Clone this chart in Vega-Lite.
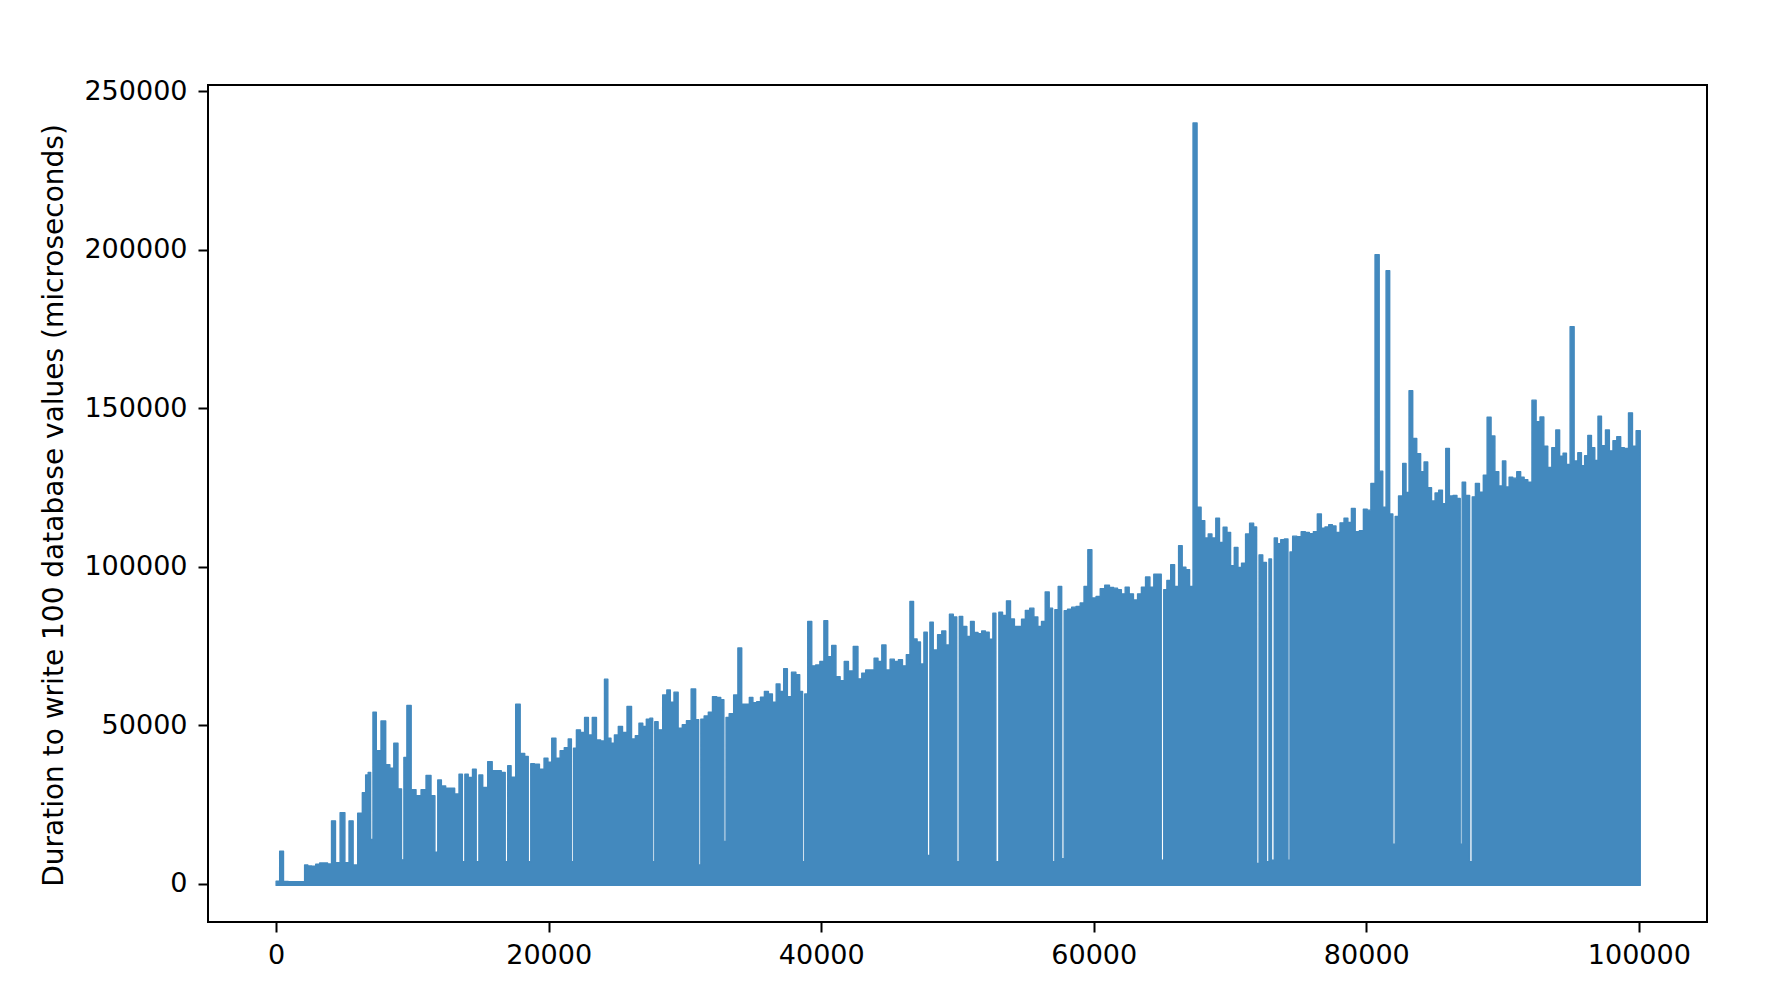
{
  "$schema": "https://vega.github.io/schema/vega-lite/v6.json",
  "width": 1499,
  "height": 837,
  "autosize": {"type": "none"},
  "padding": {"left": 208, "top": 85, "right": 65, "bottom": 84},
  "background": "white",
  "data": {
    "values": [
      {"n": 0, "duration": 900}, {"n": 120, "duration": 900}, {"n": 400, "duration": 10300}, {"n": 680, "duration": 800},
      {"n": 1100, "duration": 700}, {"n": 1600, "duration": 700}, {"n": 2000, "duration": 700}, {"n": 2180, "duration": 6000},
      {"n": 2470, "duration": 5700}, {"n": 2760, "duration": 5600}, {"n": 3050, "duration": 6200}, {"n": 3340, "duration": 6600},
      {"n": 3630, "duration": 6600}, {"n": 3920, "duration": 6300}, {"n": 4210, "duration": 19900}, {"n": 4500, "duration": 6700},
      {"n": 4890, "duration": 22500}, {"n": 5200, "duration": 6700}, {"n": 5500, "duration": 19900}, {"n": 5800, "duration": 6000},
      {"n": 6170, "duration": 22300}, {"n": 6480, "duration": 28800}, {"n": 6660, "duration": 34400}, {"n": 6850, "duration": 35200},
      {"n": 7020, "duration": 14000}, {"n": 7190, "duration": 54200}, {"n": 7510, "duration": 42000}, {"n": 7880, "duration": 51400},
      {"n": 8200, "duration": 37600}, {"n": 8490, "duration": 36500}, {"n": 8780, "duration": 44400}, {"n": 9100, "duration": 30000},
      {"n": 9300, "duration": 7600}, {"n": 9450, "duration": 39900}, {"n": 9740, "duration": 56300}, {"n": 10080, "duration": 29700},
      {"n": 10450, "duration": 27800}, {"n": 10820, "duration": 29700}, {"n": 11180, "duration": 34200}, {"n": 11550, "duration": 27800},
      {"n": 11750, "duration": 10000}, {"n": 11970, "duration": 32800}, {"n": 12280, "duration": 30900}, {"n": 12600, "duration": 30200},
      {"n": 12940, "duration": 30200}, {"n": 13260, "duration": 28400}, {"n": 13580, "duration": 34600}, {"n": 13750, "duration": 7000},
      {"n": 13950, "duration": 34600}, {"n": 14240, "duration": 33600}, {"n": 14580, "duration": 36200}, {"n": 14780, "duration": 7000},
      {"n": 14980, "duration": 34400}, {"n": 15340, "duration": 30400}, {"n": 15710, "duration": 38600}, {"n": 16000, "duration": 35700},
      {"n": 16350, "duration": 35700}, {"n": 16690, "duration": 35200}, {"n": 16930, "duration": 7000}, {"n": 17060, "duration": 37300},
      {"n": 17420, "duration": 33700}, {"n": 17740, "duration": 56700}, {"n": 18080, "duration": 41200}, {"n": 18400, "duration": 40200},
      {"n": 18600, "duration": 7000}, {"n": 18770, "duration": 37900}, {"n": 19140, "duration": 37800}, {"n": 19500, "duration": 36200},
      {"n": 19820, "duration": 39700}, {"n": 20070, "duration": 38400}, {"n": 20380, "duration": 46000}, {"n": 20680, "duration": 39700},
      {"n": 21000, "duration": 42000}, {"n": 21290, "duration": 43000}, {"n": 21580, "duration": 45700}, {"n": 21750, "duration": 7000},
      {"n": 21900, "duration": 42800}, {"n": 22170, "duration": 48600}, {"n": 22490, "duration": 47800}, {"n": 22780, "duration": 52500},
      {"n": 23050, "duration": 47000}, {"n": 23350, "duration": 52500}, {"n": 23660, "duration": 45400}, {"n": 23960, "duration": 45100},
      {"n": 24230, "duration": 64600}, {"n": 24450, "duration": 46000}, {"n": 24690, "duration": 44400}, {"n": 24960, "duration": 47000},
      {"n": 25260, "duration": 49700}, {"n": 25575, "duration": 47800}, {"n": 25920, "duration": 56000}, {"n": 26240, "duration": 45700},
      {"n": 26480, "duration": 46800}, {"n": 26770, "duration": 50700}, {"n": 27040, "duration": 49700}, {"n": 27290, "duration": 52000},
      {"n": 27560, "duration": 52300}, {"n": 27700, "duration": 7000}, {"n": 27870, "duration": 51200}, {"n": 28190, "duration": 48600},
      {"n": 28540, "duration": 59600}, {"n": 28800, "duration": 61200}, {"n": 29050, "duration": 57300}, {"n": 29340, "duration": 60500},
      {"n": 29660, "duration": 49100}, {"n": 29950, "duration": 50200}, {"n": 30270, "duration": 51500}, {"n": 30640, "duration": 61500},
      {"n": 30930, "duration": 51800}, {"n": 31080, "duration": 6000}, {"n": 31250, "duration": 52000}, {"n": 31570, "duration": 53000},
      {"n": 31860, "duration": 54200}, {"n": 32180, "duration": 59100}, {"n": 32480, "duration": 58800}, {"n": 32770, "duration": 58100},
      {"n": 32940, "duration": 13400}, {"n": 33090, "duration": 52500}, {"n": 33400, "duration": 53700}, {"n": 33750, "duration": 59600},
      {"n": 34020, "duration": 74400}, {"n": 34310, "duration": 56700}, {"n": 34600, "duration": 56700}, {"n": 34850, "duration": 58800},
      {"n": 35120, "duration": 57200}, {"n": 35410, "duration": 57500}, {"n": 35680, "duration": 58900}, {"n": 35980, "duration": 60700},
      {"n": 36270, "duration": 59900}, {"n": 36560, "duration": 57300}, {"n": 36830, "duration": 63100}, {"n": 37120, "duration": 60700},
      {"n": 37370, "duration": 67900}, {"n": 37660, "duration": 59100}, {"n": 37980, "duration": 66800}, {"n": 38300, "duration": 66000},
      {"n": 38540, "duration": 60700}, {"n": 38720, "duration": 7000}, {"n": 38860, "duration": 59900}, {"n": 39160, "duration": 82800},
      {"n": 39450, "duration": 68800}, {"n": 39740, "duration": 69100}, {"n": 40060, "duration": 70200}, {"n": 40330, "duration": 83000},
      {"n": 40620, "duration": 71700}, {"n": 40920, "duration": 75200}, {"n": 41240, "duration": 65400}, {"n": 41530, "duration": 64100},
      {"n": 41850, "duration": 70200}, {"n": 42140, "duration": 67200}, {"n": 42560, "duration": 74900}, {"n": 42830, "duration": 64700},
      {"n": 43120, "duration": 66500}, {"n": 43410, "duration": 67500}, {"n": 43730, "duration": 67500}, {"n": 44030, "duration": 71200},
      {"n": 44300, "duration": 70200}, {"n": 44590, "duration": 75400}, {"n": 44910, "duration": 67500}, {"n": 45200, "duration": 70900},
      {"n": 45520, "duration": 70200}, {"n": 45810, "duration": 70700}, {"n": 46110, "duration": 68800}, {"n": 46380, "duration": 72300},
      {"n": 46640, "duration": 89100}, {"n": 46910, "duration": 77300}, {"n": 47160, "duration": 76300}, {"n": 47400, "duration": 69400},
      {"n": 47670, "duration": 79400}, {"n": 47890, "duration": 9000}, {"n": 48060, "duration": 82600}, {"n": 48380, "duration": 73800},
      {"n": 48700, "duration": 78600}, {"n": 48990, "duration": 79800}, {"n": 49290, "duration": 75400}, {"n": 49530, "duration": 85100},
      {"n": 49850, "duration": 84200}, {"n": 50040, "duration": 7000}, {"n": 50220, "duration": 84400}, {"n": 50540, "duration": 81200},
      {"n": 50830, "duration": 78100}, {"n": 51080, "duration": 82800}, {"n": 51370, "duration": 79300}, {"n": 51640, "duration": 78900},
      {"n": 51910, "duration": 79800}, {"n": 52180, "duration": 79400}, {"n": 52470, "duration": 77200}, {"n": 52720, "duration": 85400},
      {"n": 52910, "duration": 7000}, {"n": 53160, "duration": 85700}, {"n": 53450, "duration": 84700}, {"n": 53740, "duration": 89300},
      {"n": 54040, "duration": 83600}, {"n": 54310, "duration": 81200}, {"n": 54580, "duration": 81200}, {"n": 54820, "duration": 83500},
      {"n": 55140, "duration": 86300}, {"n": 55460, "duration": 87000}, {"n": 55750, "duration": 84200}, {"n": 56040, "duration": 81200},
      {"n": 56290, "duration": 82800}, {"n": 56580, "duration": 92100}, {"n": 56880, "duration": 87000}, {"n": 57070, "duration": 7000},
      {"n": 57220, "duration": 86500}, {"n": 57560, "duration": 93800}, {"n": 57730, "duration": 8000}, {"n": 57930, "duration": 86200},
      {"n": 58220, "duration": 86700}, {"n": 58540, "duration": 87300}, {"n": 58860, "duration": 87500}, {"n": 59150, "duration": 88600},
      {"n": 59420, "duration": 93800}, {"n": 59710, "duration": 105400}, {"n": 60010, "duration": 90200}, {"n": 60330, "duration": 90700},
      {"n": 60620, "duration": 93100}, {"n": 60990, "duration": 94200}, {"n": 61310, "duration": 93500}, {"n": 61600, "duration": 93300},
      {"n": 61890, "duration": 92800}, {"n": 62160, "duration": 91500}, {"n": 62450, "duration": 93600}, {"n": 62750, "duration": 91500},
      {"n": 63070, "duration": 89600}, {"n": 63360, "duration": 91500}, {"n": 63630, "duration": 93600}, {"n": 63970, "duration": 96800},
      {"n": 64270, "duration": 93600}, {"n": 64540, "duration": 97700}, {"n": 64850, "duration": 97700}, {"n": 65050, "duration": 7500},
      {"n": 65220, "duration": 92800}, {"n": 65510, "duration": 95700}, {"n": 65780, "duration": 100700}, {"n": 66080, "duration": 93800},
      {"n": 66370, "duration": 106700}, {"n": 66610, "duration": 99900}, {"n": 66910, "duration": 99100}, {"n": 67150, "duration": 93800},
      {"n": 67420, "duration": 240000}, {"n": 67740, "duration": 118800}, {"n": 68010, "duration": 114600}, {"n": 68280, "duration": 109100},
      {"n": 68520, "duration": 110400}, {"n": 68820, "duration": 109100}, {"n": 69090, "duration": 115400}, {"n": 69360, "duration": 107700},
      {"n": 69630, "duration": 112500}, {"n": 69920, "duration": 110900}, {"n": 70160, "duration": 100400}, {"n": 70460, "duration": 106100},
      {"n": 70700, "duration": 99800}, {"n": 70990, "duration": 101200}, {"n": 71290, "duration": 110400}, {"n": 71580, "duration": 113800},
      {"n": 71880, "duration": 112600}, {"n": 72020, "duration": 6500}, {"n": 72240, "duration": 103800}, {"n": 72560, "duration": 101400},
      {"n": 72780, "duration": 7000}, {"n": 72930, "duration": 102500}, {"n": 73150, "duration": 7500}, {"n": 73340, "duration": 109100},
      {"n": 73610, "duration": 107300}, {"n": 73830, "duration": 108600}, {"n": 74150, "duration": 108800}, {"n": 74350, "duration": 7500},
      {"n": 74450, "duration": 104700}, {"n": 74740, "duration": 109700}, {"n": 75060, "duration": 109500}, {"n": 75380, "duration": 111100},
      {"n": 75670, "duration": 110900}, {"n": 75970, "duration": 110500}, {"n": 76260, "duration": 111100}, {"n": 76550, "duration": 116700},
      {"n": 76850, "duration": 112200}, {"n": 77090, "duration": 112600}, {"n": 77390, "duration": 113300}, {"n": 77630, "duration": 112900},
      {"n": 77920, "duration": 110900}, {"n": 78220, "duration": 113900}, {"n": 78510, "duration": 115400}, {"n": 78780, "duration": 114000},
      {"n": 79030, "duration": 118400}, {"n": 79340, "duration": 111100}, {"n": 79640, "duration": 111400}, {"n": 79930, "duration": 118200},
      {"n": 80200, "duration": 117900}, {"n": 80470, "duration": 126300}, {"n": 80810, "duration": 198500}, {"n": 81080, "duration": 130200},
      {"n": 81330, "duration": 118800}, {"n": 81570, "duration": 193400}, {"n": 81860, "duration": 116700}, {"n": 82030, "duration": 12500},
      {"n": 82210, "duration": 115900}, {"n": 82520, "duration": 122400}, {"n": 82820, "duration": 132600}, {"n": 83010, "duration": 123500},
      {"n": 83260, "duration": 155600}, {"n": 83550, "duration": 140500}, {"n": 83850, "duration": 135700}, {"n": 84120, "duration": 130000},
      {"n": 84360, "duration": 133100}, {"n": 84650, "duration": 125000}, {"n": 84920, "duration": 120800}, {"n": 85170, "duration": 123300},
      {"n": 85460, "duration": 124200}, {"n": 85710, "duration": 119900}, {"n": 85950, "duration": 137400}, {"n": 86240, "duration": 122400},
      {"n": 86490, "duration": 122500}, {"n": 86810, "duration": 121600}, {"n": 86970, "duration": 12500}, {"n": 87100, "duration": 126700},
      {"n": 87470, "duration": 122500}, {"n": 87690, "duration": 7000}, {"n": 87860, "duration": 122100}, {"n": 88150, "duration": 126300},
      {"n": 88450, "duration": 123600}, {"n": 88720, "duration": 128900}, {"n": 89010, "duration": 147200}, {"n": 89300, "duration": 141300},
      {"n": 89570, "duration": 130000}, {"n": 89870, "duration": 125500}, {"n": 90110, "duration": 133400}, {"n": 90360, "duration": 125200},
      {"n": 90600, "duration": 128300}, {"n": 90890, "duration": 128000}, {"n": 91190, "duration": 130000}, {"n": 91460, "duration": 128300},
      {"n": 91700, "duration": 127500}, {"n": 92000, "duration": 126700}, {"n": 92310, "duration": 152600}, {"n": 92610, "duration": 145800},
      {"n": 92880, "duration": 147300}, {"n": 93170, "duration": 138100}, {"n": 93460, "duration": 131400}, {"n": 93760, "duration": 137600},
      {"n": 94050, "duration": 143200}, {"n": 94320, "duration": 134900}, {"n": 94560, "duration": 135900}, {"n": 94810, "duration": 132300},
      {"n": 95100, "duration": 175800}, {"n": 95400, "duration": 133400}, {"n": 95640, "duration": 136000}, {"n": 95930, "duration": 131900},
      {"n": 96110, "duration": 135100}, {"n": 96400, "duration": 141500}, {"n": 96640, "duration": 137600}, {"n": 96890, "duration": 133600},
      {"n": 97110, "duration": 147500}, {"n": 97400, "duration": 138200}, {"n": 97700, "duration": 143200}, {"n": 97970, "duration": 136600},
      {"n": 98230, "duration": 139800}, {"n": 98530, "duration": 141100}, {"n": 98800, "duration": 137600}, {"n": 99070, "duration": 137400},
      {"n": 99410, "duration": 148600}, {"n": 99650, "duration": 138100}, {"n": 99950, "duration": 143000}, {"n": 100100, "duration": 143000}
    ]
  },
  "mark": {
    "type": "area",
    "interpolate": "step",
    "color": "#4389be",
    "stroke": "#4389be",
    "strokeWidth": 1.4,
    "strokeJoin": "round",
    "clip": true
  },
  "encoding": {
    "x": {
      "field": "n",
      "type": "quantitative",
      "scale": {"domain": [-5000, 105000], "nice": false, "zero": false},
      "axis": {"title": null, "values": [0, 20000, 40000, 60000, 80000, 100000], "format": "d", "labelPadding": 10}
    },
    "y": {
      "field": "duration",
      "type": "quantitative",
      "scale": {"domain": [-12000, 252000], "nice": false, "zero": false},
      "axis": {
        "title": "Duration to write 100 database values (microseconds)",
        "values": [0, 50000, 100000, 150000, 200000, 250000],
        "format": "d",
        "labelPadding": 11,
        "titleX": -146,
        "titleY": 420,
        "titleAngle": 270,
        "titleBaseline": "alphabetic",
        "titleAlign": "center"
      }
    },
    "y2": {"datum": -450}
  },
  "config": {
    "view": {"stroke": "black", "strokeWidth": 2},
    "axis": {
      "domain": false,
      "grid": false,
      "ticks": true,
      "tickColor": "black",
      "tickWidth": 2,
      "tickSize": 10,
      "labelFont": "DejaVu Sans",
      "labelFontSize": 27,
      "labelColor": "black",
      "labelFlush": false,
      "labelOverlap": false,
      "titleFont": "DejaVu Sans",
      "titleFontSize": 28,
      "titleFontWeight": "normal",
      "titleColor": "black"
    }
  }
}
